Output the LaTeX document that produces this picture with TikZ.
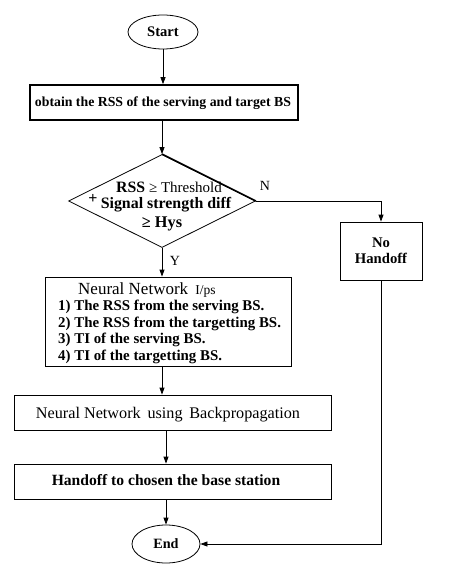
\documentclass[tikz,border=0pt]{standalone}
\usepackage{fontspec}
\setmainfont{Liberation Serif}
\usetikzlibrary{shapes.geometric,arrows.meta}
\begin{document}
\begin{tikzpicture}[x=1pt,y=-1pt,
  every node/.style={inner sep=0pt},
  arr/.style={draw,line width=0.8pt,-{Triangle[length=7pt,width=5pt]}},
  box/.style={draw,line width=0.8pt,rectangle},
  oval/.style={draw,line width=0.8pt,ellipse},
  itm/.style={anchor=base west,font=\fontsize{14.9}{16}\selectfont\bfseries}]
\useasboundingbox (0,0) rectangle (474,569);
\fill[white] (0,0) rectangle (474,569);
\node[oval,minimum width=70pt,minimum height=34pt,font=\fontsize{14.6}{16}\selectfont\bfseries] (start) at (163,32) {Start};
\node[box,line width=1.6pt,minimum width=268pt,minimum height=35pt] (b1) at (164,102.5) {};
\node[anchor=base,font=\fontsize{13.8}{16}\selectfont\bfseries] (b1t) at (163,107) {obtain the RSS of the serving and target BS};
\node[draw,line width=0.8pt,diamond,minimum width=187pt,minimum height=93pt] (d) at (162,201) {};
\draw[line width=1.6pt] (d.north) -- (d.east);
\node[anchor=base] (t1) at (169,193) {\fontsize{15.8}{17}\selectfont\bfseries RSS \fontsize{15}{16}\mdseries ≥ Threshold};
\node[anchor=base,font=\fontsize{15.9}{17}\selectfont\bfseries] (t2) at (166,208) {Signal strength diff};
\node[anchor=base,font=\fontsize{16}{17}\selectfont\bfseries] (tplus) at (93,204) {+};
\node[anchor=base,font=\fontsize{16.3}{17}\selectfont\bfseries] (t3) at (162,227) {≥ Hys};
\node[anchor=base,font=\fontsize{14}{16}\selectfont] (N) at (265,190) {N};
\node[anchor=base,font=\fontsize{14}{16}\selectfont] (Y) at (175,265) {Y};
\node[box,minimum width=82pt,minimum height=58pt,font=\fontsize{14.7}{16.5}\selectfont\bfseries,align=center] (nh) at (381,251) {No\\Handoff};
\node[box,minimum width=246pt,minimum height=89pt] (nn) at (168,321.5) {};
\node[anchor=base west,font=\fontsize{17}{18}\selectfont] (nnt) at (78,294) {Neural Network \,\fontsize{13.5}{15}\selectfont I/ps};
\node[itm] (i1) at (58,310) {1) The RSS from the serving BS.};
\node[itm] (i2) at (58,327) {2) The RSS from the targetting BS.};
\node[itm] (i3) at (58,343) {3) TI of the serving BS.};
\node[itm] (i4) at (58,360) {4) TI of the targetting BS.};
\node[box,minimum width=317pt,minimum height=35pt] (b3) at (172.5,412.5) {};
\node[anchor=base,font=\fontsize{16.2}{18}\selectfont] (b3t) at (168,418) {Neural Network \,using \,Backpropagation};
\node[box,minimum width=317pt,minimum height=35pt] (b4) at (172.5,481.5) {};
\node[anchor=base,font=\fontsize{15.6}{17}\selectfont\bfseries] (b4t) at (166,485) {Handoff to chosen the base station};
\node[oval,minimum width=68pt,minimum height=38pt,font=\fontsize{14.2}{16}\selectfont\bfseries] (e) at (166,544) {End};
\draw[arr] (start.south) -- (b1.north -| start.south);
\draw[arr] (b1.south -| d.north) -- (d.north);
\draw[arr] (d.east) -| (nh.north);
\draw[arr] (d.south) -- (d.south |- nn.north);
\draw[arr] (nn.south -| d.south) -- (d.south |- b3.north);
\draw[arr] (b3.south -| e.north) -- (b4.north -| e.north);
\draw[arr] (b4.south -| e.north) -- (e.north);
\draw[arr] (nh.south) |- (e.east);
\end{tikzpicture}
\end{document}
